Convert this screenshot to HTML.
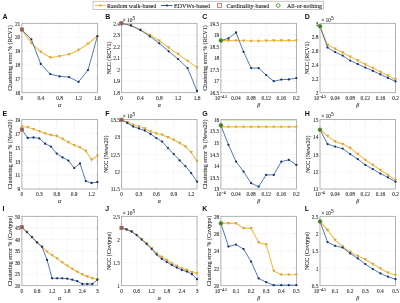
<!DOCTYPE html>
<html><head><meta charset="utf-8">
<style>
html,body{margin:0;padding:0;background:#fff;}
body{width:400px;height:303px;overflow:hidden;}
svg{display:block;will-change:transform;}
#wrap{width:400px;height:303px;}
text{stroke-width:0.1px;}
.x{stroke-width:0.05px;fill:#444;stroke:#444;}
.t,.l{stroke:#262626;stroke-width:0.08px;}
.g{stroke:#222;}
.t{font-family:"Liberation Serif",serif;font-size:5.4px;fill:#262626;}
.l{font-family:"Liberation Serif",serif;font-size:6.0px;fill:#262626;}
.g{font-family:"Liberation Serif",serif;font-size:6px;fill:#222;}
.let{font-family:"Liberation Sans",sans-serif;font-weight:bold;font-size:7.0px;fill:#111;}
</style></head><body>
<div id="wrap"><svg width="400" height="303" viewBox="0 0 400 303">
<rect width="400" height="303" fill="#fff"/>
<path d="M40.77 23.3V92.7M59.65 23.3V92.7M78.53 23.3V92.7M21.9 37.18H97.4M21.9 51.06H97.4M21.9 64.94H97.4M21.9 78.82H97.4" stroke="#f3f3f3" stroke-width="0.6" fill="none"/>
<path d="M40.77 92.7v-0.9M40.77 23.3v0.9M59.65 92.7v-0.9M59.65 23.3v0.9M78.53 92.7v-0.9M78.53 23.3v0.9M21.9 37.18h0.9M97.4 37.18h-0.9M21.9 51.06h0.9M97.4 51.06h-0.9M21.9 64.94h0.9M97.4 64.94h-0.9M21.9 78.82h0.9M97.4 78.82h-0.9" stroke="#9a9a9a" stroke-width="0.5" fill="none"/>
<rect x="21.9" y="23.3" width="75.5" height="69.4" fill="none" stroke="#9a9a9a" stroke-width="0.75"/>
<text x="21.9" y="99.7" text-anchor="middle" class="t">0</text>
<text x="40.77" y="99.7" text-anchor="middle" class="t">0.4</text>
<text x="59.65" y="99.7" text-anchor="middle" class="t">0.8</text>
<text x="78.53" y="99.7" text-anchor="middle" class="t">1.2</text>
<text x="97.4" y="99.7" text-anchor="middle" class="t">1.6</text>
<text x="20.3" y="25.6" text-anchor="end" class="t">21</text>
<text x="20.3" y="39.48" text-anchor="end" class="t">20</text>
<text x="20.3" y="53.36" text-anchor="end" class="t">19</text>
<text x="20.3" y="67.24" text-anchor="end" class="t">18</text>
<text x="20.3" y="81.12" text-anchor="end" class="t">17</text>
<text x="20.3" y="95" text-anchor="end" class="t">16</text>
<text transform="translate(12.3 58) rotate(-90)" text-anchor="middle" class="l">Clustering error % (RCV1)</text>
<text x="59.65" y="106.6" text-anchor="middle" class="l" font-style="italic" font-size="6.3">α</text>
<text x="2.5" y="19.3" class="let">A</text>
<polyline points="21.9,30 31.34,43.1 40.77,51.8 50.21,57.6 59.65,56.3 69.09,54.3 78.53,50.1 87.96,43.8 97.4,36.3" fill="none" stroke="#f0c04e" stroke-width="1.15" stroke-linejoin="round"/>
<path d="M20.25 28.76L23.55 28.76L21.9 31.65ZM29.69 41.86L32.99 41.86L31.34 44.75ZM39.12 50.56L42.42 50.56L40.77 53.45ZM48.56 56.36L51.86 56.36L50.21 59.25ZM58 55.06L61.3 55.06L59.65 57.95ZM67.44 53.06L70.74 53.06L69.09 55.95ZM76.88 48.86L80.18 48.86L78.53 51.75ZM86.31 42.56L89.61 42.56L87.96 45.45ZM95.75 35.06L99.05 35.06L97.4 37.95Z" fill="#d9a438"/>
<polyline points="21.9,30 31.34,39.3 40.77,63.9 50.21,74.1 59.65,76.4 69.09,77.1 78.53,81.9 87.96,70.1 97.4,36.3" fill="none" stroke="#3462ad" stroke-width="0.85" stroke-linejoin="round"/>
<path d="M21.9 30m-1.15 0a1.15 1.15 0 1 0 2.3 0a1.15 1.15 0 1 0 -2.3 0M31.34 39.3m-1.15 0a1.15 1.15 0 1 0 2.3 0a1.15 1.15 0 1 0 -2.3 0M40.77 63.9m-1.15 0a1.15 1.15 0 1 0 2.3 0a1.15 1.15 0 1 0 -2.3 0M50.21 74.1m-1.15 0a1.15 1.15 0 1 0 2.3 0a1.15 1.15 0 1 0 -2.3 0M59.65 76.4m-1.15 0a1.15 1.15 0 1 0 2.3 0a1.15 1.15 0 1 0 -2.3 0M69.09 77.1m-1.15 0a1.15 1.15 0 1 0 2.3 0a1.15 1.15 0 1 0 -2.3 0M78.53 81.9m-1.15 0a1.15 1.15 0 1 0 2.3 0a1.15 1.15 0 1 0 -2.3 0M87.96 70.1m-1.15 0a1.15 1.15 0 1 0 2.3 0a1.15 1.15 0 1 0 -2.3 0M97.4 36.3m-1.15 0a1.15 1.15 0 1 0 2.3 0a1.15 1.15 0 1 0 -2.3 0" fill="#1a2f66"/>
<rect x="20.3" y="27.9" width="3.2" height="3.2" fill="#806058" stroke="#b06a58" stroke-width="0.8"/>
<path d="M140.38 23.3V92.7M159.25 23.3V92.7M178.12 23.3V92.7M121.5 34.87H197M121.5 46.43H197M121.5 58H197M121.5 69.57H197M121.5 81.13H197" stroke="#f3f3f3" stroke-width="0.6" fill="none"/>
<path d="M140.38 92.7v-0.9M140.38 23.3v0.9M159.25 92.7v-0.9M159.25 23.3v0.9M178.12 92.7v-0.9M178.12 23.3v0.9M121.5 34.87h0.9M197 34.87h-0.9M121.5 46.43h0.9M197 46.43h-0.9M121.5 58h0.9M197 58h-0.9M121.5 69.57h0.9M197 69.57h-0.9M121.5 81.13h0.9M197 81.13h-0.9" stroke="#9a9a9a" stroke-width="0.5" fill="none"/>
<rect x="121.5" y="23.3" width="75.5" height="69.4" fill="none" stroke="#9a9a9a" stroke-width="0.75"/>
<text x="121.5" y="99.7" text-anchor="middle" class="t">0</text>
<text x="140.38" y="99.7" text-anchor="middle" class="t">0.4</text>
<text x="159.25" y="99.7" text-anchor="middle" class="t">0.8</text>
<text x="178.12" y="99.7" text-anchor="middle" class="t">1.2</text>
<text x="197" y="99.7" text-anchor="middle" class="t">1.6</text>
<text x="119.9" y="25.6" text-anchor="end" class="t">2.4</text>
<text x="119.9" y="37.17" text-anchor="end" class="t">2.3</text>
<text x="119.9" y="48.73" text-anchor="end" class="t">2.2</text>
<text x="119.9" y="60.3" text-anchor="end" class="t">2.1</text>
<text x="119.9" y="71.87" text-anchor="end" class="t">2</text>
<text x="119.9" y="83.43" text-anchor="end" class="t">1.9</text>
<text x="119.9" y="95" text-anchor="end" class="t">1.8</text>
<text x="124.3" y="21.9" text-anchor="middle" class="t x">×</text>
<text x="127" y="21.9" class="t x">10</text>
<text x="132.5" y="19.6" class="t x" font-size="4.0">5</text>
<text transform="translate(110.55 58) rotate(-90)" text-anchor="middle" class="l">NCC (RCV1)</text>
<text x="159.25" y="106.6" text-anchor="middle" class="l" font-style="italic" font-size="6.3">α</text>
<text x="105.3" y="19.3" class="let">B</text>
<polyline points="121.5,23.3 130.94,25.5 140.38,30 149.81,35 159.25,40.8 168.69,47.6 178.12,54.1 187.56,60.9 197,67.6" fill="none" stroke="#f0c04e" stroke-width="1.15" stroke-linejoin="round"/>
<path d="M119.85 22.06L123.15 22.06L121.5 24.95ZM129.29 24.26L132.59 24.26L130.94 27.15ZM138.72 28.76L142.03 28.76L140.38 31.65ZM148.16 33.76L151.46 33.76L149.81 36.65ZM157.6 39.56L160.9 39.56L159.25 42.45ZM167.04 46.36L170.34 46.36L168.69 49.25ZM176.47 52.86L179.78 52.86L178.12 55.75ZM185.91 59.66L189.21 59.66L187.56 62.55ZM195.35 66.36L198.65 66.36L197 69.25Z" fill="#d9a438"/>
<polyline points="121.5,23.3 130.94,25.5 140.38,30 149.81,36.3 159.25,43.3 168.69,51.3 178.12,59.1 187.56,68.1 197,90.9" fill="none" stroke="#3462ad" stroke-width="0.85" stroke-linejoin="round"/>
<path d="M121.5 23.3m-1.15 0a1.15 1.15 0 1 0 2.3 0a1.15 1.15 0 1 0 -2.3 0M130.94 25.5m-1.15 0a1.15 1.15 0 1 0 2.3 0a1.15 1.15 0 1 0 -2.3 0M140.38 30m-1.15 0a1.15 1.15 0 1 0 2.3 0a1.15 1.15 0 1 0 -2.3 0M149.81 36.3m-1.15 0a1.15 1.15 0 1 0 2.3 0a1.15 1.15 0 1 0 -2.3 0M159.25 43.3m-1.15 0a1.15 1.15 0 1 0 2.3 0a1.15 1.15 0 1 0 -2.3 0M168.69 51.3m-1.15 0a1.15 1.15 0 1 0 2.3 0a1.15 1.15 0 1 0 -2.3 0M178.12 59.1m-1.15 0a1.15 1.15 0 1 0 2.3 0a1.15 1.15 0 1 0 -2.3 0M187.56 68.1m-1.15 0a1.15 1.15 0 1 0 2.3 0a1.15 1.15 0 1 0 -2.3 0M197 90.9m-1.15 0a1.15 1.15 0 1 0 2.3 0a1.15 1.15 0 1 0 -2.3 0" fill="#1a2f66"/>
<rect x="119.9" y="21.7" width="3.2" height="3.2" fill="#806058" stroke="#b06a58" stroke-width="0.8"/>
<path d="M236 23.3V92.7M251.1 23.3V92.7M266.2 23.3V92.7M281.3 23.3V92.7M220.9 34.87H296.4M220.9 46.43H296.4M220.9 58H296.4M220.9 69.57H296.4M220.9 81.13H296.4" stroke="#f3f3f3" stroke-width="0.6" fill="none"/>
<path d="M236 92.7v-0.9M236 23.3v0.9M251.1 92.7v-0.9M251.1 23.3v0.9M266.2 92.7v-0.9M266.2 23.3v0.9M281.3 92.7v-0.9M281.3 23.3v0.9M220.9 34.87h0.9M296.4 34.87h-0.9M220.9 46.43h0.9M296.4 46.43h-0.9M220.9 58h0.9M296.4 58h-0.9M220.9 69.57h0.9M296.4 69.57h-0.9M220.9 81.13h0.9M296.4 81.13h-0.9" stroke="#9a9a9a" stroke-width="0.5" fill="none"/>
<rect x="220.9" y="23.3" width="75.5" height="69.4" fill="none" stroke="#9a9a9a" stroke-width="0.75"/>
<text x="220.9" y="99.7" text-anchor="middle" class="t">10<tspan dy="-1.9" font-size="3.89">−4.5</tspan></text>
<text x="236" y="99.7" text-anchor="middle" class="t">0.04</text>
<text x="251.1" y="99.7" text-anchor="middle" class="t">0.08</text>
<text x="266.2" y="99.7" text-anchor="middle" class="t">0.12</text>
<text x="281.3" y="99.7" text-anchor="middle" class="t">0.16</text>
<text x="296.4" y="99.7" text-anchor="middle" class="t">0.2</text>
<text x="219.3" y="25.6" text-anchor="end" class="t">19.5</text>
<text x="219.3" y="37.17" text-anchor="end" class="t">19</text>
<text x="219.3" y="48.73" text-anchor="end" class="t">18.5</text>
<text x="219.3" y="60.3" text-anchor="end" class="t">18</text>
<text x="219.3" y="71.87" text-anchor="end" class="t">17.5</text>
<text x="219.3" y="83.43" text-anchor="end" class="t">17</text>
<text x="219.3" y="95" text-anchor="end" class="t">16.5</text>
<text transform="translate(207.25 58) rotate(-90)" text-anchor="middle" class="l">Clustering error % (RCV1)</text>
<text x="258.65" y="107" text-anchor="middle" class="l" font-style="italic" font-size="6.3">β</text>
<text x="202.3" y="19.3" class="let">C</text>
<polyline points="220.9,40.6 228.45,40.6 236,40.6 243.55,40.8 251.1,41 258.65,41 266.2,40.8 273.75,40.6 281.3,40.6 288.85,40.6 296.4,40.6" fill="none" stroke="#f0c04e" stroke-width="1.15" stroke-linejoin="round"/>
<path d="M219.25 39.36L222.55 39.36L220.9 42.25ZM226.8 39.36L230.1 39.36L228.45 42.25ZM234.35 39.36L237.65 39.36L236 42.25ZM241.9 39.56L245.2 39.56L243.55 42.45ZM249.45 39.76L252.75 39.76L251.1 42.65ZM257 39.76L260.3 39.76L258.65 42.65ZM264.55 39.56L267.85 39.56L266.2 42.45ZM272.1 39.36L275.4 39.36L273.75 42.25ZM279.65 39.36L282.95 39.36L281.3 42.25ZM287.2 39.36L290.5 39.36L288.85 42.25ZM294.75 39.36L298.05 39.36L296.4 42.25Z" fill="#d9a438"/>
<polyline points="220.9,40.55 228.45,38.3 236,32.5 243.55,51.8 251.1,68.1 258.65,68.1 266.2,75.1 273.75,81.2 281.3,79.6 288.85,79.4 296.4,78.1" fill="none" stroke="#3462ad" stroke-width="0.85" stroke-linejoin="round"/>
<path d="M220.9 40.55m-1.15 0a1.15 1.15 0 1 0 2.3 0a1.15 1.15 0 1 0 -2.3 0M228.45 38.3m-1.15 0a1.15 1.15 0 1 0 2.3 0a1.15 1.15 0 1 0 -2.3 0M236 32.5m-1.15 0a1.15 1.15 0 1 0 2.3 0a1.15 1.15 0 1 0 -2.3 0M243.55 51.8m-1.15 0a1.15 1.15 0 1 0 2.3 0a1.15 1.15 0 1 0 -2.3 0M251.1 68.1m-1.15 0a1.15 1.15 0 1 0 2.3 0a1.15 1.15 0 1 0 -2.3 0M258.65 68.1m-1.15 0a1.15 1.15 0 1 0 2.3 0a1.15 1.15 0 1 0 -2.3 0M266.2 75.1m-1.15 0a1.15 1.15 0 1 0 2.3 0a1.15 1.15 0 1 0 -2.3 0M273.75 81.2m-1.15 0a1.15 1.15 0 1 0 2.3 0a1.15 1.15 0 1 0 -2.3 0M281.3 79.6m-1.15 0a1.15 1.15 0 1 0 2.3 0a1.15 1.15 0 1 0 -2.3 0M288.85 79.4m-1.15 0a1.15 1.15 0 1 0 2.3 0a1.15 1.15 0 1 0 -2.3 0M296.4 78.1m-1.15 0a1.15 1.15 0 1 0 2.3 0a1.15 1.15 0 1 0 -2.3 0" fill="#1a2f66"/>
<circle cx="220.9" cy="40.5" r="1.9" fill="#476f38" stroke="#5f9a2c" stroke-width="0.8"/>
<path d="M335.1 23.3V92.7M350.2 23.3V92.7M365.3 23.3V92.7M380.4 23.3V92.7M320 37.18H395.5M320 51.06H395.5M320 64.94H395.5M320 78.82H395.5" stroke="#f3f3f3" stroke-width="0.6" fill="none"/>
<path d="M335.1 92.7v-0.9M335.1 23.3v0.9M350.2 92.7v-0.9M350.2 23.3v0.9M365.3 92.7v-0.9M365.3 23.3v0.9M380.4 92.7v-0.9M380.4 23.3v0.9M320 37.18h0.9M395.5 37.18h-0.9M320 51.06h0.9M395.5 51.06h-0.9M320 64.94h0.9M395.5 64.94h-0.9M320 78.82h0.9M395.5 78.82h-0.9" stroke="#9a9a9a" stroke-width="0.5" fill="none"/>
<rect x="320" y="23.3" width="75.5" height="69.4" fill="none" stroke="#9a9a9a" stroke-width="0.75"/>
<text x="320" y="99.7" text-anchor="middle" class="t">10<tspan dy="-1.9" font-size="3.89">−4.5</tspan></text>
<text x="335.1" y="99.7" text-anchor="middle" class="t">0.04</text>
<text x="350.2" y="99.7" text-anchor="middle" class="t">0.08</text>
<text x="365.3" y="99.7" text-anchor="middle" class="t">0.12</text>
<text x="380.4" y="99.7" text-anchor="middle" class="t">0.16</text>
<text x="395.5" y="99.7" text-anchor="middle" class="t">0.2</text>
<text x="318.4" y="25.6" text-anchor="end" class="t">3</text>
<text x="318.4" y="39.48" text-anchor="end" class="t">2.8</text>
<text x="318.4" y="53.36" text-anchor="end" class="t">2.6</text>
<text x="318.4" y="67.24" text-anchor="end" class="t">2.4</text>
<text x="318.4" y="81.12" text-anchor="end" class="t">2.2</text>
<text x="318.4" y="95" text-anchor="end" class="t">2</text>
<text x="322.8" y="21.9" text-anchor="middle" class="t x">×</text>
<text x="325.5" y="21.9" class="t x">10</text>
<text x="331" y="19.6" class="t x" font-size="4.0">5</text>
<text transform="translate(309.05 58) rotate(-90)" text-anchor="middle" class="l">NCC (RCV1)</text>
<text x="357.75" y="107" text-anchor="middle" class="l" font-style="italic" font-size="6.3">β</text>
<text x="304.7" y="19.3" class="let">D</text>
<polyline points="320,26.3 327.55,45.1 335.1,48.8 342.65,52.6 350.2,56.8 357.75,60.6 365.3,64.6 372.85,68.1 380.4,72.1 387.95,75.6 395.5,79.4" fill="none" stroke="#f0c04e" stroke-width="1.15" stroke-linejoin="round"/>
<path d="M318.35 25.06L321.65 25.06L320 27.95ZM325.9 43.86L329.2 43.86L327.55 46.75ZM333.45 47.56L336.75 47.56L335.1 50.45ZM341 51.36L344.3 51.36L342.65 54.25ZM348.55 55.56L351.85 55.56L350.2 58.45ZM356.1 59.36L359.4 59.36L357.75 62.25ZM363.65 63.36L366.95 63.36L365.3 66.25ZM371.2 66.86L374.5 66.86L372.85 69.75ZM378.75 70.86L382.05 70.86L380.4 73.75ZM386.3 74.36L389.6 74.36L387.95 77.25ZM393.85 78.16L397.15 78.16L395.5 81.05Z" fill="#d9a438"/>
<polyline points="320,26.3 327.55,47.6 335.1,52.1 342.65,55.6 350.2,60.6 357.75,64.1 365.3,67.6 372.85,70.9 380.4,74.4 387.95,77.9 395.5,81.4" fill="none" stroke="#3462ad" stroke-width="0.85" stroke-linejoin="round"/>
<path d="M320 26.3m-1.15 0a1.15 1.15 0 1 0 2.3 0a1.15 1.15 0 1 0 -2.3 0M327.55 47.6m-1.15 0a1.15 1.15 0 1 0 2.3 0a1.15 1.15 0 1 0 -2.3 0M335.1 52.1m-1.15 0a1.15 1.15 0 1 0 2.3 0a1.15 1.15 0 1 0 -2.3 0M342.65 55.6m-1.15 0a1.15 1.15 0 1 0 2.3 0a1.15 1.15 0 1 0 -2.3 0M350.2 60.6m-1.15 0a1.15 1.15 0 1 0 2.3 0a1.15 1.15 0 1 0 -2.3 0M357.75 64.1m-1.15 0a1.15 1.15 0 1 0 2.3 0a1.15 1.15 0 1 0 -2.3 0M365.3 67.6m-1.15 0a1.15 1.15 0 1 0 2.3 0a1.15 1.15 0 1 0 -2.3 0M372.85 70.9m-1.15 0a1.15 1.15 0 1 0 2.3 0a1.15 1.15 0 1 0 -2.3 0M380.4 74.4m-1.15 0a1.15 1.15 0 1 0 2.3 0a1.15 1.15 0 1 0 -2.3 0M387.95 77.9m-1.15 0a1.15 1.15 0 1 0 2.3 0a1.15 1.15 0 1 0 -2.3 0M395.5 81.4m-1.15 0a1.15 1.15 0 1 0 2.3 0a1.15 1.15 0 1 0 -2.3 0" fill="#1a2f66"/>
<circle cx="320" cy="26.3" r="1.9" fill="#476f38" stroke="#5f9a2c" stroke-width="0.8"/>
<path d="M39.32 119.6V189M56.75 119.6V189M74.17 119.6V189M91.59 119.6V189M21.9 133.48H97.4M21.9 147.36H97.4M21.9 161.24H97.4M21.9 175.12H97.4" stroke="#f3f3f3" stroke-width="0.6" fill="none"/>
<path d="M39.32 189v-0.9M39.32 119.6v0.9M56.75 189v-0.9M56.75 119.6v0.9M74.17 189v-0.9M74.17 119.6v0.9M21.9 133.48h0.9M97.4 133.48h-0.9M21.9 147.36h0.9M97.4 147.36h-0.9M21.9 161.24h0.9M97.4 161.24h-0.9M21.9 175.12h0.9M97.4 175.12h-0.9" stroke="#9a9a9a" stroke-width="0.5" fill="none"/>
<rect x="21.9" y="119.6" width="75.5" height="69.4" fill="none" stroke="#9a9a9a" stroke-width="0.75"/>
<text x="21.9" y="196" text-anchor="middle" class="t">0</text>
<text x="39.32" y="196" text-anchor="middle" class="t">0.3</text>
<text x="56.75" y="196" text-anchor="middle" class="t">0.6</text>
<text x="74.17" y="196" text-anchor="middle" class="t">0.9</text>
<text x="91.59" y="196" text-anchor="middle" class="t">1.2</text>
<text x="20.3" y="121.9" text-anchor="end" class="t">19</text>
<text x="20.3" y="135.78" text-anchor="end" class="t">17</text>
<text x="20.3" y="149.66" text-anchor="end" class="t">15</text>
<text x="20.3" y="163.54" text-anchor="end" class="t">13</text>
<text x="20.3" y="177.42" text-anchor="end" class="t">11</text>
<text x="20.3" y="191.3" text-anchor="end" class="t">9</text>
<text transform="translate(12.3 154.3) rotate(-90)" text-anchor="middle" class="l">Clustering error % (News20)</text>
<text x="59.65" y="202.9" text-anchor="middle" class="l" font-style="italic" font-size="6.3">α</text>
<text x="2.5" y="115.8" class="let">E</text>
<polyline points="21.9,126.8 27.71,127.2 33.52,129.2 39.32,131.2 45.13,133.4 50.94,135.1 56.75,136.1 62.55,139.1 68.36,142.3 74.17,145.2 79.98,147.4 85.78,151.1 91.59,159.8 97.4,155.7" fill="none" stroke="#f0c04e" stroke-width="1.15" stroke-linejoin="round"/>
<path d="M20.25 125.56L23.55 125.56L21.9 128.45ZM26.06 125.96L29.36 125.96L27.71 128.85ZM31.87 127.96L35.17 127.96L33.52 130.85ZM37.67 129.96L40.97 129.96L39.32 132.85ZM43.48 132.16L46.78 132.16L45.13 135.05ZM49.29 133.86L52.59 133.86L50.94 136.75ZM55.1 134.86L58.4 134.86L56.75 137.75ZM60.9 137.86L64.2 137.86L62.55 140.75ZM66.71 141.06L70.01 141.06L68.36 143.95ZM72.52 143.96L75.82 143.96L74.17 146.85ZM78.33 146.16L81.63 146.16L79.98 149.05ZM84.13 149.86L87.43 149.86L85.78 152.75ZM89.94 158.56L93.24 158.56L91.59 161.45ZM95.75 154.46L99.05 154.46L97.4 157.35Z" fill="#d9a438"/>
<polyline points="21.9,129.6 27.71,138 33.52,137.5 39.32,138.4 45.13,143.7 50.94,146.6 56.75,153.6 62.55,157.4 68.36,160.6 74.17,168.1 79.98,163.5 85.78,181.1 91.59,183 97.4,182" fill="none" stroke="#3462ad" stroke-width="0.85" stroke-linejoin="round"/>
<path d="M21.9 129.6m-1.15 0a1.15 1.15 0 1 0 2.3 0a1.15 1.15 0 1 0 -2.3 0M27.71 138m-1.15 0a1.15 1.15 0 1 0 2.3 0a1.15 1.15 0 1 0 -2.3 0M33.52 137.5m-1.15 0a1.15 1.15 0 1 0 2.3 0a1.15 1.15 0 1 0 -2.3 0M39.32 138.4m-1.15 0a1.15 1.15 0 1 0 2.3 0a1.15 1.15 0 1 0 -2.3 0M45.13 143.7m-1.15 0a1.15 1.15 0 1 0 2.3 0a1.15 1.15 0 1 0 -2.3 0M50.94 146.6m-1.15 0a1.15 1.15 0 1 0 2.3 0a1.15 1.15 0 1 0 -2.3 0M56.75 153.6m-1.15 0a1.15 1.15 0 1 0 2.3 0a1.15 1.15 0 1 0 -2.3 0M62.55 157.4m-1.15 0a1.15 1.15 0 1 0 2.3 0a1.15 1.15 0 1 0 -2.3 0M68.36 160.6m-1.15 0a1.15 1.15 0 1 0 2.3 0a1.15 1.15 0 1 0 -2.3 0M74.17 168.1m-1.15 0a1.15 1.15 0 1 0 2.3 0a1.15 1.15 0 1 0 -2.3 0M79.98 163.5m-1.15 0a1.15 1.15 0 1 0 2.3 0a1.15 1.15 0 1 0 -2.3 0M85.78 181.1m-1.15 0a1.15 1.15 0 1 0 2.3 0a1.15 1.15 0 1 0 -2.3 0M91.59 183m-1.15 0a1.15 1.15 0 1 0 2.3 0a1.15 1.15 0 1 0 -2.3 0M97.4 182m-1.15 0a1.15 1.15 0 1 0 2.3 0a1.15 1.15 0 1 0 -2.3 0" fill="#1a2f66"/>
<rect x="20.3" y="128" width="3.2" height="3.2" fill="#806058" stroke="#b06a58" stroke-width="0.8"/>
<path d="M138.92 119.6V189M156.35 119.6V189M173.77 119.6V189M191.19 119.6V189M121.5 136.95H197M121.5 154.3H197M121.5 171.65H197" stroke="#f3f3f3" stroke-width="0.6" fill="none"/>
<path d="M138.92 189v-0.9M138.92 119.6v0.9M156.35 189v-0.9M156.35 119.6v0.9M173.77 189v-0.9M173.77 119.6v0.9M121.5 136.95h0.9M197 136.95h-0.9M121.5 154.3h0.9M197 154.3h-0.9M121.5 171.65h0.9M197 171.65h-0.9" stroke="#9a9a9a" stroke-width="0.5" fill="none"/>
<rect x="121.5" y="119.6" width="75.5" height="69.4" fill="none" stroke="#9a9a9a" stroke-width="0.75"/>
<text x="121.5" y="196" text-anchor="middle" class="t">0</text>
<text x="138.92" y="196" text-anchor="middle" class="t">0.3</text>
<text x="156.35" y="196" text-anchor="middle" class="t">0.6</text>
<text x="173.77" y="196" text-anchor="middle" class="t">0.9</text>
<text x="191.19" y="196" text-anchor="middle" class="t">1.2</text>
<text x="119.9" y="121.9" text-anchor="end" class="t">13.5</text>
<text x="119.9" y="139.25" text-anchor="end" class="t">13</text>
<text x="119.9" y="156.6" text-anchor="end" class="t">12.5</text>
<text x="119.9" y="173.95" text-anchor="end" class="t">12</text>
<text x="119.9" y="191.3" text-anchor="end" class="t">11.5</text>
<text x="124.3" y="118.2" text-anchor="middle" class="t x">×</text>
<text x="127" y="118.2" class="t x">10</text>
<text x="132.5" y="115.9" class="t x" font-size="4.0">5</text>
<text transform="translate(107.85 154.3) rotate(-90)" text-anchor="middle" class="l">NCC (News20)</text>
<text x="159.25" y="202.9" text-anchor="middle" class="l" font-style="italic" font-size="6.3">α</text>
<text x="105.3" y="115.8" class="let">F</text>
<polyline points="121.5,119.8 127.31,122.3 133.12,124.8 138.92,126.5 144.73,128.5 150.54,131.5 156.35,133.5 162.15,134.8 167.96,137.3 173.77,139.8 179.58,143.1 185.38,146.6 191.19,152.3 197,161.1" fill="none" stroke="#f0c04e" stroke-width="1.15" stroke-linejoin="round"/>
<path d="M119.85 118.56L123.15 118.56L121.5 121.45ZM125.66 121.06L128.96 121.06L127.31 123.95ZM131.47 123.56L134.77 123.56L133.12 126.45ZM137.27 125.26L140.57 125.26L138.92 128.15ZM143.08 127.26L146.38 127.26L144.73 130.15ZM148.89 130.26L152.19 130.26L150.54 133.15ZM154.7 132.26L158 132.26L156.35 135.15ZM160.5 133.56L163.8 133.56L162.15 136.45ZM166.31 136.06L169.61 136.06L167.96 138.95ZM172.12 138.56L175.42 138.56L173.77 141.45ZM177.93 141.86L181.23 141.86L179.58 144.75ZM183.73 145.36L187.03 145.36L185.38 148.25ZM189.54 151.06L192.84 151.06L191.19 153.95ZM195.35 159.86L198.65 159.86L197 162.75Z" fill="#d9a438"/>
<polyline points="121.5,119.8 127.31,123 133.12,126.5 138.92,128.5 144.73,130.5 150.54,134 156.35,138.1 162.15,141.6 167.96,148.1 173.77,154.1 179.58,160.4 185.38,166.1 191.19,173.1 197,181.7" fill="none" stroke="#3462ad" stroke-width="0.85" stroke-linejoin="round"/>
<path d="M121.5 119.8m-1.15 0a1.15 1.15 0 1 0 2.3 0a1.15 1.15 0 1 0 -2.3 0M127.31 123m-1.15 0a1.15 1.15 0 1 0 2.3 0a1.15 1.15 0 1 0 -2.3 0M133.12 126.5m-1.15 0a1.15 1.15 0 1 0 2.3 0a1.15 1.15 0 1 0 -2.3 0M138.92 128.5m-1.15 0a1.15 1.15 0 1 0 2.3 0a1.15 1.15 0 1 0 -2.3 0M144.73 130.5m-1.15 0a1.15 1.15 0 1 0 2.3 0a1.15 1.15 0 1 0 -2.3 0M150.54 134m-1.15 0a1.15 1.15 0 1 0 2.3 0a1.15 1.15 0 1 0 -2.3 0M156.35 138.1m-1.15 0a1.15 1.15 0 1 0 2.3 0a1.15 1.15 0 1 0 -2.3 0M162.15 141.6m-1.15 0a1.15 1.15 0 1 0 2.3 0a1.15 1.15 0 1 0 -2.3 0M167.96 148.1m-1.15 0a1.15 1.15 0 1 0 2.3 0a1.15 1.15 0 1 0 -2.3 0M173.77 154.1m-1.15 0a1.15 1.15 0 1 0 2.3 0a1.15 1.15 0 1 0 -2.3 0M179.58 160.4m-1.15 0a1.15 1.15 0 1 0 2.3 0a1.15 1.15 0 1 0 -2.3 0M185.38 166.1m-1.15 0a1.15 1.15 0 1 0 2.3 0a1.15 1.15 0 1 0 -2.3 0M191.19 173.1m-1.15 0a1.15 1.15 0 1 0 2.3 0a1.15 1.15 0 1 0 -2.3 0M197 181.7m-1.15 0a1.15 1.15 0 1 0 2.3 0a1.15 1.15 0 1 0 -2.3 0" fill="#1a2f66"/>
<rect x="119.9" y="118.2" width="3.2" height="3.2" fill="#806058" stroke="#b06a58" stroke-width="0.8"/>
<path d="M236 119.6V189M251.1 119.6V189M266.2 119.6V189M281.3 119.6V189M220.9 131.17H296.4M220.9 142.73H296.4M220.9 154.3H296.4M220.9 165.87H296.4M220.9 177.43H296.4" stroke="#f3f3f3" stroke-width="0.6" fill="none"/>
<path d="M236 189v-0.9M236 119.6v0.9M251.1 189v-0.9M251.1 119.6v0.9M266.2 189v-0.9M266.2 119.6v0.9M281.3 189v-0.9M281.3 119.6v0.9M220.9 131.17h0.9M296.4 131.17h-0.9M220.9 142.73h0.9M296.4 142.73h-0.9M220.9 154.3h0.9M296.4 154.3h-0.9M220.9 165.87h0.9M296.4 165.87h-0.9M220.9 177.43h0.9M296.4 177.43h-0.9" stroke="#9a9a9a" stroke-width="0.5" fill="none"/>
<rect x="220.9" y="119.6" width="75.5" height="69.4" fill="none" stroke="#9a9a9a" stroke-width="0.75"/>
<path d="M221.4 120.6H296.4" stroke="#cfe3b8" stroke-width="0.8"/>
<text x="220.9" y="196" text-anchor="middle" class="t">10<tspan dy="-1.9" font-size="3.89">−4</tspan></text>
<text x="236" y="196" text-anchor="middle" class="t">0.04</text>
<text x="251.1" y="196" text-anchor="middle" class="t">0.08</text>
<text x="266.2" y="196" text-anchor="middle" class="t">0.12</text>
<text x="281.3" y="196" text-anchor="middle" class="t">0.16</text>
<text x="296.4" y="196" text-anchor="middle" class="t">0.2</text>
<text x="219.3" y="121.9" text-anchor="end" class="t">16</text>
<text x="219.3" y="133.47" text-anchor="end" class="t">15.5</text>
<text x="219.3" y="145.03" text-anchor="end" class="t">15</text>
<text x="219.3" y="156.6" text-anchor="end" class="t">14.5</text>
<text x="219.3" y="168.17" text-anchor="end" class="t">14</text>
<text x="219.3" y="179.73" text-anchor="end" class="t">13.5</text>
<text x="219.3" y="191.3" text-anchor="end" class="t">13</text>
<text transform="translate(207.25 154.3) rotate(-90)" text-anchor="middle" class="l">Clustering error % (News20)</text>
<text x="258.65" y="203.3" text-anchor="middle" class="l" font-style="italic" font-size="6.3">β</text>
<text x="202.3" y="115.8" class="let">G</text>
<polyline points="220.9,126.9 228.45,126.9 236,126.9 243.55,126.9 251.1,126.9 258.65,126.9 266.2,126.9 273.75,126.9 281.3,126.9 288.85,126.9 296.4,126.9" fill="none" stroke="#f0c04e" stroke-width="1.15" stroke-linejoin="round"/>
<path d="M219.25 125.66L222.55 125.66L220.9 128.55ZM226.8 125.66L230.1 125.66L228.45 128.55ZM234.35 125.66L237.65 125.66L236 128.55ZM241.9 125.66L245.2 125.66L243.55 128.55ZM249.45 125.66L252.75 125.66L251.1 128.55ZM257 125.66L260.3 125.66L258.65 128.55ZM264.55 125.66L267.85 125.66L266.2 128.55ZM272.1 125.66L275.4 125.66L273.75 128.55ZM279.65 125.66L282.95 125.66L281.3 128.55ZM287.2 125.66L290.5 125.66L288.85 128.55ZM294.75 125.66L298.05 125.66L296.4 128.55Z" fill="#d9a438"/>
<polyline points="220.9,125.5 228.45,144.8 236,161.6 243.55,171.6 251.1,183.2 258.65,186.7 266.2,174.9 273.75,174.9 281.3,161.6 288.85,159.9 296.4,164.9" fill="none" stroke="#3462ad" stroke-width="0.85" stroke-linejoin="round"/>
<path d="M220.9 125.5m-1.15 0a1.15 1.15 0 1 0 2.3 0a1.15 1.15 0 1 0 -2.3 0M228.45 144.8m-1.15 0a1.15 1.15 0 1 0 2.3 0a1.15 1.15 0 1 0 -2.3 0M236 161.6m-1.15 0a1.15 1.15 0 1 0 2.3 0a1.15 1.15 0 1 0 -2.3 0M243.55 171.6m-1.15 0a1.15 1.15 0 1 0 2.3 0a1.15 1.15 0 1 0 -2.3 0M251.1 183.2m-1.15 0a1.15 1.15 0 1 0 2.3 0a1.15 1.15 0 1 0 -2.3 0M258.65 186.7m-1.15 0a1.15 1.15 0 1 0 2.3 0a1.15 1.15 0 1 0 -2.3 0M266.2 174.9m-1.15 0a1.15 1.15 0 1 0 2.3 0a1.15 1.15 0 1 0 -2.3 0M273.75 174.9m-1.15 0a1.15 1.15 0 1 0 2.3 0a1.15 1.15 0 1 0 -2.3 0M281.3 161.6m-1.15 0a1.15 1.15 0 1 0 2.3 0a1.15 1.15 0 1 0 -2.3 0M288.85 159.9m-1.15 0a1.15 1.15 0 1 0 2.3 0a1.15 1.15 0 1 0 -2.3 0M296.4 164.9m-1.15 0a1.15 1.15 0 1 0 2.3 0a1.15 1.15 0 1 0 -2.3 0" fill="#1a2f66"/>
<circle cx="220.9" cy="125.3" r="1.9" fill="#476f38" stroke="#5f9a2c" stroke-width="0.8"/>
<path d="M335.1 119.6V189M350.2 119.6V189M365.3 119.6V189M380.4 119.6V189M320 136.95H395.5M320 154.3H395.5M320 171.65H395.5" stroke="#f3f3f3" stroke-width="0.6" fill="none"/>
<path d="M335.1 189v-0.9M335.1 119.6v0.9M350.2 189v-0.9M350.2 119.6v0.9M365.3 189v-0.9M365.3 119.6v0.9M380.4 189v-0.9M380.4 119.6v0.9M320 136.95h0.9M395.5 136.95h-0.9M320 154.3h0.9M395.5 154.3h-0.9M320 171.65h0.9M395.5 171.65h-0.9" stroke="#9a9a9a" stroke-width="0.5" fill="none"/>
<rect x="320" y="119.6" width="75.5" height="69.4" fill="none" stroke="#9a9a9a" stroke-width="0.75"/>
<text x="320" y="196" text-anchor="middle" class="t">10<tspan dy="-1.9" font-size="3.89">−4</tspan></text>
<text x="335.1" y="196" text-anchor="middle" class="t">0.04</text>
<text x="350.2" y="196" text-anchor="middle" class="t">0.08</text>
<text x="365.3" y="196" text-anchor="middle" class="t">0.12</text>
<text x="380.4" y="196" text-anchor="middle" class="t">0.16</text>
<text x="395.5" y="196" text-anchor="middle" class="t">0.2</text>
<text x="318.4" y="121.9" text-anchor="end" class="t">15</text>
<text x="318.4" y="139.25" text-anchor="end" class="t">14</text>
<text x="318.4" y="156.6" text-anchor="end" class="t">13</text>
<text x="318.4" y="173.95" text-anchor="end" class="t">12</text>
<text x="318.4" y="191.3" text-anchor="end" class="t">11</text>
<text x="322.8" y="118.2" text-anchor="middle" class="t x">×</text>
<text x="325.5" y="118.2" class="t x">10</text>
<text x="331" y="115.9" class="t x" font-size="4.0">5</text>
<text transform="translate(310.4 154.3) rotate(-90)" text-anchor="middle" class="l">NCC (News20)</text>
<text x="357.75" y="203.3" text-anchor="middle" class="l" font-style="italic" font-size="6.3">β</text>
<text x="304.7" y="115.8" class="let">H</text>
<polyline points="320,129.8 327.55,136.1 335.1,141.6 342.65,144.1 350.2,148.1 357.75,154.1 365.3,159.9 372.85,164.9 380.4,169.9 387.95,174.9 395.5,179.9" fill="none" stroke="#f0c04e" stroke-width="1.15" stroke-linejoin="round"/>
<path d="M318.35 128.56L321.65 128.56L320 131.45ZM325.9 134.86L329.2 134.86L327.55 137.75ZM333.45 140.36L336.75 140.36L335.1 143.25ZM341 142.86L344.3 142.86L342.65 145.75ZM348.55 146.86L351.85 146.86L350.2 149.75ZM356.1 152.86L359.4 152.86L357.75 155.75ZM363.65 158.66L366.95 158.66L365.3 161.55ZM371.2 163.66L374.5 163.66L372.85 166.55ZM378.75 168.66L382.05 168.66L380.4 171.55ZM386.3 173.66L389.6 173.66L387.95 176.55ZM393.85 178.66L397.15 178.66L395.5 181.55Z" fill="#d9a438"/>
<polyline points="320,129.8 327.55,144.1 335.1,146.6 342.65,148.6 350.2,154.1 357.75,159.1 365.3,164.9 372.85,169.1 380.4,173.6 387.95,177.4 395.5,181.7" fill="none" stroke="#3462ad" stroke-width="0.85" stroke-linejoin="round"/>
<path d="M320 129.8m-1.15 0a1.15 1.15 0 1 0 2.3 0a1.15 1.15 0 1 0 -2.3 0M327.55 144.1m-1.15 0a1.15 1.15 0 1 0 2.3 0a1.15 1.15 0 1 0 -2.3 0M335.1 146.6m-1.15 0a1.15 1.15 0 1 0 2.3 0a1.15 1.15 0 1 0 -2.3 0M342.65 148.6m-1.15 0a1.15 1.15 0 1 0 2.3 0a1.15 1.15 0 1 0 -2.3 0M350.2 154.1m-1.15 0a1.15 1.15 0 1 0 2.3 0a1.15 1.15 0 1 0 -2.3 0M357.75 159.1m-1.15 0a1.15 1.15 0 1 0 2.3 0a1.15 1.15 0 1 0 -2.3 0M365.3 164.9m-1.15 0a1.15 1.15 0 1 0 2.3 0a1.15 1.15 0 1 0 -2.3 0M372.85 169.1m-1.15 0a1.15 1.15 0 1 0 2.3 0a1.15 1.15 0 1 0 -2.3 0M380.4 173.6m-1.15 0a1.15 1.15 0 1 0 2.3 0a1.15 1.15 0 1 0 -2.3 0M387.95 177.4m-1.15 0a1.15 1.15 0 1 0 2.3 0a1.15 1.15 0 1 0 -2.3 0M395.5 181.7m-1.15 0a1.15 1.15 0 1 0 2.3 0a1.15 1.15 0 1 0 -2.3 0" fill="#1a2f66"/>
<circle cx="320" cy="129.8" r="1.9" fill="#476f38" stroke="#5f9a2c" stroke-width="0.8"/>
<path d="M37 216.3V285.7M52.1 216.3V285.7M67.2 216.3V285.7M82.3 216.3V285.7M21.9 227.87H97.4M21.9 239.43H97.4M21.9 251H97.4M21.9 262.57H97.4M21.9 274.13H97.4" stroke="#f3f3f3" stroke-width="0.6" fill="none"/>
<path d="M37 285.7v-0.9M37 216.3v0.9M52.1 285.7v-0.9M52.1 216.3v0.9M67.2 285.7v-0.9M67.2 216.3v0.9M82.3 285.7v-0.9M82.3 216.3v0.9M21.9 227.87h0.9M97.4 227.87h-0.9M21.9 239.43h0.9M97.4 239.43h-0.9M21.9 251h0.9M97.4 251h-0.9M21.9 262.57h0.9M97.4 262.57h-0.9M21.9 274.13h0.9M97.4 274.13h-0.9" stroke="#9a9a9a" stroke-width="0.5" fill="none"/>
<rect x="21.9" y="216.3" width="75.5" height="69.4" fill="none" stroke="#9a9a9a" stroke-width="0.75"/>
<text x="21.9" y="292.7" text-anchor="middle" class="t">0</text>
<text x="37" y="292.7" text-anchor="middle" class="t">0.6</text>
<text x="52.1" y="292.7" text-anchor="middle" class="t">1.2</text>
<text x="67.2" y="292.7" text-anchor="middle" class="t">1.8</text>
<text x="82.3" y="292.7" text-anchor="middle" class="t">2.4</text>
<text x="97.4" y="292.7" text-anchor="middle" class="t">3</text>
<text x="20.3" y="218.6" text-anchor="end" class="t">50</text>
<text x="20.3" y="230.17" text-anchor="end" class="t">45</text>
<text x="20.3" y="241.73" text-anchor="end" class="t">40</text>
<text x="20.3" y="253.3" text-anchor="end" class="t">35</text>
<text x="20.3" y="264.87" text-anchor="end" class="t">30</text>
<text x="20.3" y="276.43" text-anchor="end" class="t">25</text>
<text x="20.3" y="288" text-anchor="end" class="t">20</text>
<text transform="translate(12.3 251) rotate(-90)" text-anchor="middle" class="l">Clustering error % (Covtype)</text>
<text x="59.65" y="299.6" text-anchor="middle" class="l" font-style="italic" font-size="6.3">α</text>
<text x="2.5" y="211.3" class="let">I</text>
<polyline points="21.9,227.2 26.93,232.1 31.97,237.1 37,242.4 42.03,246.8 47.07,251.7 52.1,255.2 57.13,258.6 62.17,262.4 67.2,265.8 72.23,268.9 77.27,271.8 82.3,274.4 87.33,276.6 92.37,278.3 97.4,279.2" fill="none" stroke="#f0c04e" stroke-width="1.15" stroke-linejoin="round"/>
<path d="M20.25 225.96L23.55 225.96L21.9 228.85ZM25.28 230.86L28.58 230.86L26.93 233.75ZM30.32 235.86L33.62 235.86L31.97 238.75ZM35.35 241.16L38.65 241.16L37 244.05ZM40.38 245.56L43.68 245.56L42.03 248.45ZM45.42 250.46L48.72 250.46L47.07 253.35ZM50.45 253.96L53.75 253.96L52.1 256.85ZM55.48 257.36L58.78 257.36L57.13 260.25ZM60.52 261.16L63.82 261.16L62.17 264.05ZM65.55 264.56L68.85 264.56L67.2 267.45ZM70.58 267.66L73.88 267.66L72.23 270.55ZM75.62 270.56L78.92 270.56L77.27 273.45ZM80.65 273.16L83.95 273.16L82.3 276.05ZM85.68 275.36L88.98 275.36L87.33 278.25ZM90.72 277.06L94.02 277.06L92.37 279.95ZM95.75 277.96L99.05 277.96L97.4 280.85Z" fill="#d9a438"/>
<polyline points="21.9,227.2 26.93,232.1 31.97,237.1 37,242.4 42.03,246.8 47.07,260 52.1,278.3 57.13,278.3 62.17,278.3 67.2,278.7 72.23,279.7 77.27,281.2 82.3,284 87.33,284 92.37,284 97.4,279.7" fill="none" stroke="#3462ad" stroke-width="0.85" stroke-linejoin="round"/>
<path d="M21.9 227.2m-1.15 0a1.15 1.15 0 1 0 2.3 0a1.15 1.15 0 1 0 -2.3 0M26.93 232.1m-1.15 0a1.15 1.15 0 1 0 2.3 0a1.15 1.15 0 1 0 -2.3 0M31.97 237.1m-1.15 0a1.15 1.15 0 1 0 2.3 0a1.15 1.15 0 1 0 -2.3 0M37 242.4m-1.15 0a1.15 1.15 0 1 0 2.3 0a1.15 1.15 0 1 0 -2.3 0M42.03 246.8m-1.15 0a1.15 1.15 0 1 0 2.3 0a1.15 1.15 0 1 0 -2.3 0M47.07 260m-1.15 0a1.15 1.15 0 1 0 2.3 0a1.15 1.15 0 1 0 -2.3 0M52.1 278.3m-1.15 0a1.15 1.15 0 1 0 2.3 0a1.15 1.15 0 1 0 -2.3 0M57.13 278.3m-1.15 0a1.15 1.15 0 1 0 2.3 0a1.15 1.15 0 1 0 -2.3 0M62.17 278.3m-1.15 0a1.15 1.15 0 1 0 2.3 0a1.15 1.15 0 1 0 -2.3 0M67.2 278.7m-1.15 0a1.15 1.15 0 1 0 2.3 0a1.15 1.15 0 1 0 -2.3 0M72.23 279.7m-1.15 0a1.15 1.15 0 1 0 2.3 0a1.15 1.15 0 1 0 -2.3 0M77.27 281.2m-1.15 0a1.15 1.15 0 1 0 2.3 0a1.15 1.15 0 1 0 -2.3 0M82.3 284m-1.15 0a1.15 1.15 0 1 0 2.3 0a1.15 1.15 0 1 0 -2.3 0M87.33 284m-1.15 0a1.15 1.15 0 1 0 2.3 0a1.15 1.15 0 1 0 -2.3 0M92.37 284m-1.15 0a1.15 1.15 0 1 0 2.3 0a1.15 1.15 0 1 0 -2.3 0M97.4 279.7m-1.15 0a1.15 1.15 0 1 0 2.3 0a1.15 1.15 0 1 0 -2.3 0" fill="#1a2f66"/>
<rect x="20.3" y="225.6" width="3.2" height="3.2" fill="#806058" stroke="#b06a58" stroke-width="0.8"/>
<path d="M136.6 216.3V285.7M151.7 216.3V285.7M166.8 216.3V285.7M181.9 216.3V285.7M121.5 239.43H197M121.5 262.57H197" stroke="#f3f3f3" stroke-width="0.6" fill="none"/>
<path d="M136.6 285.7v-0.9M136.6 216.3v0.9M151.7 285.7v-0.9M151.7 216.3v0.9M166.8 285.7v-0.9M166.8 216.3v0.9M181.9 285.7v-0.9M181.9 216.3v0.9M121.5 239.43h0.9M197 239.43h-0.9M121.5 262.57h0.9M197 262.57h-0.9" stroke="#9a9a9a" stroke-width="0.5" fill="none"/>
<rect x="121.5" y="216.3" width="75.5" height="69.4" fill="none" stroke="#9a9a9a" stroke-width="0.75"/>
<text x="121.5" y="292.7" text-anchor="middle" class="t">0</text>
<text x="136.6" y="292.7" text-anchor="middle" class="t">0.6</text>
<text x="151.7" y="292.7" text-anchor="middle" class="t">1.2</text>
<text x="166.8" y="292.7" text-anchor="middle" class="t">1.8</text>
<text x="181.9" y="292.7" text-anchor="middle" class="t">2.4</text>
<text x="197" y="292.7" text-anchor="middle" class="t">3</text>
<text x="119.9" y="218.6" text-anchor="end" class="t">2.5</text>
<text x="119.9" y="241.73" text-anchor="end" class="t">2</text>
<text x="119.9" y="264.87" text-anchor="end" class="t">1.5</text>
<text x="119.9" y="288" text-anchor="end" class="t">1</text>
<text x="124.3" y="214.9" text-anchor="middle" class="t x">×</text>
<text x="127" y="214.9" class="t x">10</text>
<text x="132.5" y="212.6" class="t x" font-size="4.0">5</text>
<text transform="translate(110.55 251) rotate(-90)" text-anchor="middle" class="l">NCC (Covtype)</text>
<text x="159.25" y="299.6" text-anchor="middle" class="l" font-style="italic" font-size="6.3">α</text>
<text x="105.3" y="211.3" class="let">J</text>
<polyline points="121.5,227.8 126.53,229.5 131.57,231.5 136.6,235.1 141.63,239.1 146.67,243.3 151.7,248.3 156.73,253.4 161.77,257.1 166.8,260.1 171.83,263.4 176.87,265.9 181.9,268.4 186.93,270.1 191.97,272.2 197,273.4" fill="none" stroke="#f0c04e" stroke-width="1.15" stroke-linejoin="round"/>
<path d="M119.85 226.56L123.15 226.56L121.5 229.45ZM124.88 228.26L128.18 228.26L126.53 231.15ZM129.92 230.26L133.22 230.26L131.57 233.15ZM134.95 233.86L138.25 233.86L136.6 236.75ZM139.98 237.86L143.28 237.86L141.63 240.75ZM145.02 242.06L148.32 242.06L146.67 244.95ZM150.05 247.06L153.35 247.06L151.7 249.95ZM155.08 252.16L158.38 252.16L156.73 255.05ZM160.12 255.86L163.42 255.86L161.77 258.75ZM165.15 258.86L168.45 258.86L166.8 261.75ZM170.18 262.16L173.48 262.16L171.83 265.05ZM175.22 264.66L178.52 264.66L176.87 267.55ZM180.25 267.16L183.55 267.16L181.9 270.05ZM185.28 268.86L188.58 268.86L186.93 271.75ZM190.32 270.96L193.62 270.96L191.97 273.85ZM195.35 272.16L198.65 272.16L197 275.05Z" fill="#d9a438"/>
<polyline points="121.5,227.8 126.53,229.5 131.57,231.5 136.6,235.1 141.63,239.6 146.67,244.1 151.7,249.1 156.73,254.6 161.77,258.9 166.8,262.1 171.83,265.1 176.87,267.6 181.9,270.1 186.93,271.6 191.97,274.2 197,279.2" fill="none" stroke="#3462ad" stroke-width="0.85" stroke-linejoin="round"/>
<path d="M121.5 227.8m-1.15 0a1.15 1.15 0 1 0 2.3 0a1.15 1.15 0 1 0 -2.3 0M126.53 229.5m-1.15 0a1.15 1.15 0 1 0 2.3 0a1.15 1.15 0 1 0 -2.3 0M131.57 231.5m-1.15 0a1.15 1.15 0 1 0 2.3 0a1.15 1.15 0 1 0 -2.3 0M136.6 235.1m-1.15 0a1.15 1.15 0 1 0 2.3 0a1.15 1.15 0 1 0 -2.3 0M141.63 239.6m-1.15 0a1.15 1.15 0 1 0 2.3 0a1.15 1.15 0 1 0 -2.3 0M146.67 244.1m-1.15 0a1.15 1.15 0 1 0 2.3 0a1.15 1.15 0 1 0 -2.3 0M151.7 249.1m-1.15 0a1.15 1.15 0 1 0 2.3 0a1.15 1.15 0 1 0 -2.3 0M156.73 254.6m-1.15 0a1.15 1.15 0 1 0 2.3 0a1.15 1.15 0 1 0 -2.3 0M161.77 258.9m-1.15 0a1.15 1.15 0 1 0 2.3 0a1.15 1.15 0 1 0 -2.3 0M166.8 262.1m-1.15 0a1.15 1.15 0 1 0 2.3 0a1.15 1.15 0 1 0 -2.3 0M171.83 265.1m-1.15 0a1.15 1.15 0 1 0 2.3 0a1.15 1.15 0 1 0 -2.3 0M176.87 267.6m-1.15 0a1.15 1.15 0 1 0 2.3 0a1.15 1.15 0 1 0 -2.3 0M181.9 270.1m-1.15 0a1.15 1.15 0 1 0 2.3 0a1.15 1.15 0 1 0 -2.3 0M186.93 271.6m-1.15 0a1.15 1.15 0 1 0 2.3 0a1.15 1.15 0 1 0 -2.3 0M191.97 274.2m-1.15 0a1.15 1.15 0 1 0 2.3 0a1.15 1.15 0 1 0 -2.3 0M197 279.2m-1.15 0a1.15 1.15 0 1 0 2.3 0a1.15 1.15 0 1 0 -2.3 0" fill="#1a2f66"/>
<rect x="119.9" y="226.2" width="3.2" height="3.2" fill="#806058" stroke="#b06a58" stroke-width="0.8"/>
<path d="M236 216.3V285.7M251.1 216.3V285.7M266.2 216.3V285.7M281.3 216.3V285.7M220.9 233.65H296.4M220.9 251H296.4M220.9 268.35H296.4" stroke="#f3f3f3" stroke-width="0.6" fill="none"/>
<path d="M236 285.7v-0.9M236 216.3v0.9M251.1 285.7v-0.9M251.1 216.3v0.9M266.2 285.7v-0.9M266.2 216.3v0.9M281.3 285.7v-0.9M281.3 216.3v0.9M220.9 233.65h0.9M296.4 233.65h-0.9M220.9 251h0.9M296.4 251h-0.9M220.9 268.35h0.9M296.4 268.35h-0.9" stroke="#9a9a9a" stroke-width="0.5" fill="none"/>
<rect x="220.9" y="216.3" width="75.5" height="69.4" fill="none" stroke="#9a9a9a" stroke-width="0.75"/>
<text x="220.9" y="292.7" text-anchor="middle" class="t">10<tspan dy="-1.9" font-size="3.89">−4.5</tspan></text>
<text x="236" y="292.7" text-anchor="middle" class="t">0.1</text>
<text x="251.1" y="292.7" text-anchor="middle" class="t">0.2</text>
<text x="266.2" y="292.7" text-anchor="middle" class="t">0.3</text>
<text x="281.3" y="292.7" text-anchor="middle" class="t">0.4</text>
<text x="296.4" y="292.7" text-anchor="middle" class="t">0.5</text>
<text x="219.3" y="218.6" text-anchor="end" class="t">28</text>
<text x="219.3" y="235.95" text-anchor="end" class="t">26</text>
<text x="219.3" y="253.3" text-anchor="end" class="t">24</text>
<text x="219.3" y="270.65" text-anchor="end" class="t">22</text>
<text x="219.3" y="288" text-anchor="end" class="t">20</text>
<text transform="translate(211.3 251) rotate(-90)" text-anchor="middle" class="l">Clustering error % (Covtype)</text>
<text x="258.65" y="300" text-anchor="middle" class="l" font-style="italic" font-size="6.3">β</text>
<text x="202.3" y="211.3" class="let">K</text>
<polyline points="220.9,223.3 228.45,223.3 236,223.3 243.55,228.3 251.1,228.3 258.65,242.6 266.2,244.6 273.75,270.9 281.3,274.7 288.85,274.7 296.4,274.7" fill="none" stroke="#f0c04e" stroke-width="1.15" stroke-linejoin="round"/>
<path d="M219.25 222.06L222.55 222.06L220.9 224.95ZM226.8 222.06L230.1 222.06L228.45 224.95ZM234.35 222.06L237.65 222.06L236 224.95ZM241.9 227.06L245.2 227.06L243.55 229.95ZM249.45 227.06L252.75 227.06L251.1 229.95ZM257 241.36L260.3 241.36L258.65 244.25ZM264.55 243.36L267.85 243.36L266.2 246.25ZM272.1 269.66L275.4 269.66L273.75 272.55ZM279.65 273.46L282.95 273.46L281.3 276.35ZM287.2 273.46L290.5 273.46L288.85 276.35ZM294.75 273.46L298.05 273.46L296.4 276.35Z" fill="#d9a438"/>
<polyline points="220.9,223.3 228.45,246.6 236,244.6 243.55,249.1 251.1,261.6 258.65,278.4 266.2,282.2 273.75,285.2 281.3,285.2 288.85,285.2 296.4,285.2" fill="none" stroke="#3462ad" stroke-width="0.85" stroke-linejoin="round"/>
<path d="M220.9 223.3m-1.15 0a1.15 1.15 0 1 0 2.3 0a1.15 1.15 0 1 0 -2.3 0M228.45 246.6m-1.15 0a1.15 1.15 0 1 0 2.3 0a1.15 1.15 0 1 0 -2.3 0M236 244.6m-1.15 0a1.15 1.15 0 1 0 2.3 0a1.15 1.15 0 1 0 -2.3 0M243.55 249.1m-1.15 0a1.15 1.15 0 1 0 2.3 0a1.15 1.15 0 1 0 -2.3 0M251.1 261.6m-1.15 0a1.15 1.15 0 1 0 2.3 0a1.15 1.15 0 1 0 -2.3 0M258.65 278.4m-1.15 0a1.15 1.15 0 1 0 2.3 0a1.15 1.15 0 1 0 -2.3 0M266.2 282.2m-1.15 0a1.15 1.15 0 1 0 2.3 0a1.15 1.15 0 1 0 -2.3 0M273.75 285.2m-1.15 0a1.15 1.15 0 1 0 2.3 0a1.15 1.15 0 1 0 -2.3 0M281.3 285.2m-1.15 0a1.15 1.15 0 1 0 2.3 0a1.15 1.15 0 1 0 -2.3 0M288.85 285.2m-1.15 0a1.15 1.15 0 1 0 2.3 0a1.15 1.15 0 1 0 -2.3 0M296.4 285.2m-1.15 0a1.15 1.15 0 1 0 2.3 0a1.15 1.15 0 1 0 -2.3 0" fill="#1a2f66"/>
<circle cx="220.9" cy="223.3" r="1.9" fill="#476f38" stroke="#5f9a2c" stroke-width="0.8"/>
<path d="M335.1 216.3V285.7M350.2 216.3V285.7M365.3 216.3V285.7M380.4 216.3V285.7M320 233.65H395.5M320 251H395.5M320 268.35H395.5" stroke="#f3f3f3" stroke-width="0.6" fill="none"/>
<path d="M335.1 285.7v-0.9M335.1 216.3v0.9M350.2 285.7v-0.9M350.2 216.3v0.9M365.3 285.7v-0.9M365.3 216.3v0.9M380.4 285.7v-0.9M380.4 216.3v0.9M320 233.65h0.9M395.5 233.65h-0.9M320 251h0.9M395.5 251h-0.9M320 268.35h0.9M395.5 268.35h-0.9" stroke="#9a9a9a" stroke-width="0.5" fill="none"/>
<rect x="320" y="216.3" width="75.5" height="69.4" fill="none" stroke="#9a9a9a" stroke-width="0.75"/>
<text x="320" y="292.7" text-anchor="middle" class="t">10<tspan dy="-1.9" font-size="3.89">−4.5</tspan></text>
<text x="335.1" y="292.7" text-anchor="middle" class="t">0.1</text>
<text x="350.2" y="292.7" text-anchor="middle" class="t">0.2</text>
<text x="365.3" y="292.7" text-anchor="middle" class="t">0.3</text>
<text x="380.4" y="292.7" text-anchor="middle" class="t">0.4</text>
<text x="395.5" y="292.7" text-anchor="middle" class="t">0.5</text>
<text x="318.4" y="218.6" text-anchor="end" class="t">2.5</text>
<text x="318.4" y="235.95" text-anchor="end" class="t">2</text>
<text x="318.4" y="253.3" text-anchor="end" class="t">1.5</text>
<text x="318.4" y="270.65" text-anchor="end" class="t">1</text>
<text x="318.4" y="288" text-anchor="end" class="t">0.5</text>
<text x="322.8" y="214.9" text-anchor="middle" class="t x">×</text>
<text x="325.5" y="214.9" class="t x">10</text>
<text x="331" y="212.6" class="t x" font-size="4.0">5</text>
<text transform="translate(309.05 251) rotate(-90)" text-anchor="middle" class="l">NCC (Covtype)</text>
<text x="357.75" y="300" text-anchor="middle" class="l" font-style="italic" font-size="6.3">β</text>
<text x="304.7" y="211.3" class="let">L</text>
<polyline points="320,221.5 327.55,230 335.1,240.1 342.65,246.6 350.2,252.1 357.75,255.9 365.3,259.6 372.85,264.1 380.4,268.4 387.95,272.7 395.5,275.2" fill="none" stroke="#f0c04e" stroke-width="1.15" stroke-linejoin="round"/>
<path d="M318.35 220.26L321.65 220.26L320 223.15ZM325.9 228.76L329.2 228.76L327.55 231.65ZM333.45 238.86L336.75 238.86L335.1 241.75ZM341 245.36L344.3 245.36L342.65 248.25ZM348.55 250.86L351.85 250.86L350.2 253.75ZM356.1 254.66L359.4 254.66L357.75 257.55ZM363.65 258.36L366.95 258.36L365.3 261.25ZM371.2 262.86L374.5 262.86L372.85 265.75ZM378.75 267.16L382.05 267.16L380.4 270.05ZM386.3 271.46L389.6 271.46L387.95 274.35ZM393.85 273.96L397.15 273.96L395.5 276.85Z" fill="#d9a438"/>
<polyline points="320,221.5 327.55,242.1 335.1,245.8 342.65,247.6 350.2,253.4 357.75,258.4 365.3,264.1 372.85,269.1 380.4,273.4 387.95,276.7 395.5,279.2" fill="none" stroke="#3462ad" stroke-width="0.85" stroke-linejoin="round"/>
<path d="M320 221.5m-1.15 0a1.15 1.15 0 1 0 2.3 0a1.15 1.15 0 1 0 -2.3 0M327.55 242.1m-1.15 0a1.15 1.15 0 1 0 2.3 0a1.15 1.15 0 1 0 -2.3 0M335.1 245.8m-1.15 0a1.15 1.15 0 1 0 2.3 0a1.15 1.15 0 1 0 -2.3 0M342.65 247.6m-1.15 0a1.15 1.15 0 1 0 2.3 0a1.15 1.15 0 1 0 -2.3 0M350.2 253.4m-1.15 0a1.15 1.15 0 1 0 2.3 0a1.15 1.15 0 1 0 -2.3 0M357.75 258.4m-1.15 0a1.15 1.15 0 1 0 2.3 0a1.15 1.15 0 1 0 -2.3 0M365.3 264.1m-1.15 0a1.15 1.15 0 1 0 2.3 0a1.15 1.15 0 1 0 -2.3 0M372.85 269.1m-1.15 0a1.15 1.15 0 1 0 2.3 0a1.15 1.15 0 1 0 -2.3 0M380.4 273.4m-1.15 0a1.15 1.15 0 1 0 2.3 0a1.15 1.15 0 1 0 -2.3 0M387.95 276.7m-1.15 0a1.15 1.15 0 1 0 2.3 0a1.15 1.15 0 1 0 -2.3 0M395.5 279.2m-1.15 0a1.15 1.15 0 1 0 2.3 0a1.15 1.15 0 1 0 -2.3 0" fill="#1a2f66"/>
<circle cx="320" cy="221.5" r="1.9" fill="#476f38" stroke="#5f9a2c" stroke-width="0.8"/>
<rect x="93" y="1.2" width="230.5" height="8.3" fill="#fff" stroke="#a0a0a0" stroke-width="0.6"/>
<path d="M95 5.5H106" stroke="#f0c04e" stroke-width="1"/>
<path d="M99.1 4.45L101.9 4.45L100.5 6.9Z" fill="#d9a438"/>
<text x="107" y="7.6" class="g">Random walk-based</text>
<path d="M161 5.5H172.5" stroke="#3462ad" stroke-width="1"/>
<circle cx="167" cy="5.5" r="1.1" fill="#1a2f66"/>
<text x="174" y="7.6" class="g">EDVWs-based</text>
<rect x="217.5" y="3.5" width="4" height="4" fill="#fbeeea" stroke="#d27a66" stroke-width="0.9"/>
<text x="226.6" y="7.6" class="g">Cardinality-based</text>
<circle cx="278.2" cy="5.5" r="1.9" fill="#f3f8ee" stroke="#5f9a2c" stroke-width="0.9"/>
<text x="287" y="7.6" class="g">All-or-nothing</text>
</svg></div>
</body></html>
